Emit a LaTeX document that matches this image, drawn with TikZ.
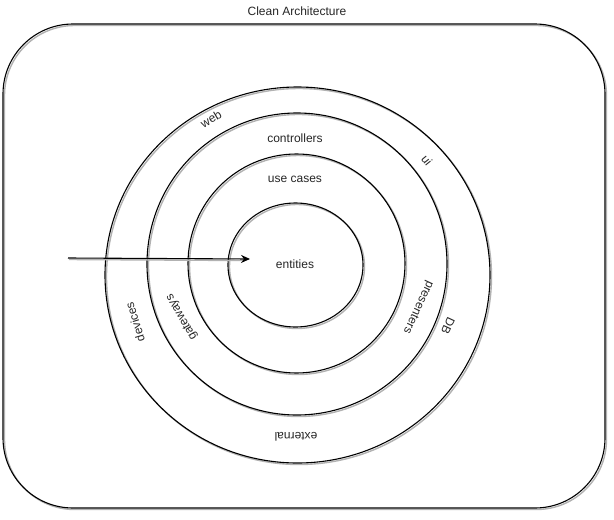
\documentclass[tikz,border=0pt]{standalone}
\usepackage{fontspec}
\setmainfont{Liberation Sans}
\usetikzlibrary{shapes.geometric,arrows.meta}
\begin{document}
\begin{tikzpicture}[x=1pt,y=-1pt,
  ringline/.style={draw=black,line width=1.1pt},
  shadowline/.style={draw=black!30,line width=1.4pt},
  ring/.style={ellipse,inner sep=0pt,outer sep=0pt},
  lbl/.style={font=\fontsize{12}{14}\selectfont,text=black!85,inner sep=1pt},
  frame/.style={rounded corners=70pt}]
\useasboundingbox (0,0) rectangle (614,520);
\fill[white] (0,0) rectangle (614,520);
% frame with shadow
\draw[shadowline,frame] (4.5,25.5) rectangle (606.5,509.5);
\draw[ringline,frame] (3,24) rectangle (605,508);
% rings: shadows then outlines
\foreach \n/\x/\y/\w/\h in {outer/297.5/275/385/376, ctrl/297/264/300/302, uc/296.5/263.5/217/219, ent/295.5/265/135/124}{
  \node[ring,shadowline,minimum width=\w pt,minimum height=\h pt] (\n-sh) at (\x+1.5,\y+1.5) {};
}
\foreach \n/\x/\y/\w/\h in {outer/297.5/275/385/376, ctrl/297/264/300/302, uc/296.5/263.5/217/219, ent/295.5/265/135/124}{
  \node[ring,ringline,minimum width=\w pt,minimum height=\h pt] (\n) at (\x,\y) {};
}
% labels
\node[lbl] (title) at (297,11) {Clean Architecture};
\node[lbl,rotate=30] (web) at (211,119) {web};
\node[lbl,rotate=-51] (ui) at (427,160) {ui};
\node[lbl] (controllers) at (295,138) {controllers};
\node[lbl] (usecases) at (295,179) {use cases};
\node[lbl] (entities) at (295,264) {entities};
\node[lbl,rotate=-115] (presenters) at (418,307) {presenters};
\node[lbl,rotate=-115] (db) at (448,326) {DB};
\node[lbl,rotate=107] (devices) at (135,322) {devices};
\node[lbl,rotate=120] (gateways) at (182,317) {gateways};
\node[lbl,rotate=180] (external) at (296,437) {external};
% arrow
\coordinate (src) at (68,258);
\coordinate (tip) at (250,259);
\draw[shadowline] ([shift={(1,1.5)}]src) -- ([shift={(-6,1.5)}]tip);
\draw[ringline,-{Stealth[length=9pt,width=8pt,inset=3pt]}] (src) -- (tip);
\end{tikzpicture}
\end{document}
